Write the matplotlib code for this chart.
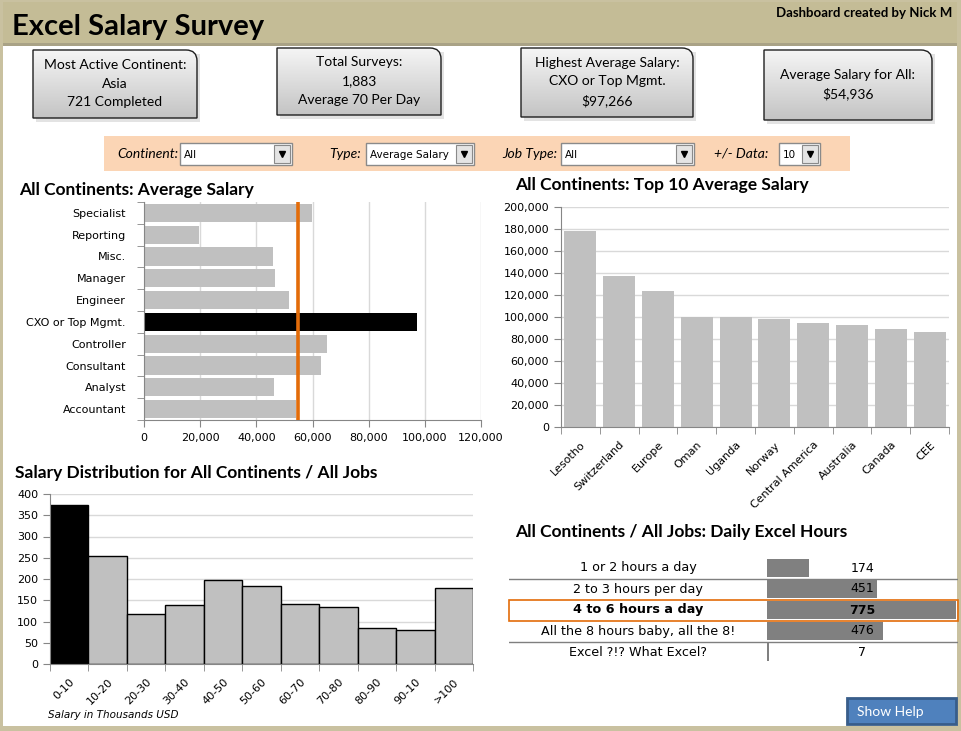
import numpy as np
import matplotlib.pyplot as plt
import matplotlib.transforms as mtransforms
from matplotlib.patches import Rectangle, PathPatch
from matplotlib.path import Path
from matplotlib.colors import LinearSegmentedColormap
from matplotlib.ticker import FuncFormatter, MultipleLocator

W, H = 962, 731

# ---- data ----
job_types = ['Accountant', 'Analyst', 'Consultant', 'Controller', 'CXO or Top Mgmt.',
             'Engineer', 'Manager', 'Misc.', 'Reporting', 'Specialist']
job_salary = [54100, 46200, 63000, 65100, 97266, 51600, 46600, 45900, 19500, 59700]
avg_salary_all = 54936

countries = ['Lesotho', 'Switzerland', 'Europe', 'Oman', 'Uganda', 'Norway',
             'Central America', 'Australia', 'Canada', 'CEE']
country_salary = [177900, 137600, 124000, 100400, 99700, 98500, 94900, 93100, 89400, 86700]

salary_bins = ['0-10', '10-20', '20-30', '30-40', '40-50', '50-60', '60-70',
               '70-80', '80-90', '90-10', '>100']
bin_counts = [375, 253, 117, 138, 197, 183, 141, 134, 85, 80, 180]

hours_labels = ['1 or 2 hours a day', '2 to 3 hours per day', '4 to 6 hours a day',
                'All the 8 hours baby, all the 8!', 'Excel ?!? What Excel?']
hours_counts = [174, 451, 775, 476, 7]

kpi_texts = ['Most Active Continent:\nAsia\n721 Completed',
             'Total Surveys:\n1,883\nAverage 70 Per Day',
             'Highest Average Salary:\nCXO or Top Mgmt.\n$97,266',
             'Average Salary for All:\n$54,936']

filter_labels = ['Continent:', 'Type:', 'Job Type:', '+/- Data:']
filter_values = ['All', 'Average Salary', 'All', '10']

# ---- colours / fonts ----
TAN = '#c9c1a0'
HEADER = '#c4bc96'
BAR = '#c0c0c0'
ORANGE = '#e36c09'
AXGREY = '#868686'
GRID = '#d9d9d9'
TFONT = 'Lato'
TICK = 'DejaVu Sans'

fig = plt.figure(figsize=(W / 100, H / 100), dpi=100)


def px_axes(x0, y0, x1, y1):
    return fig.add_axes([x0 / W, 1 - y1 / H, (x1 - x0) / W, (y1 - y0) / H])


def ftext(x, y, s, **kw):
    fig.text(x / W, 1 - y / H, s, **kw)


comma = FuncFormatter(lambda v, p: f'{int(v):,}')

# ---- background frame ----
bg = px_axes(0, 0, W, H)
bg.set_xlim(0, W)
bg.set_ylim(H, 0)
bg.axis('off')
bg.add_patch(Rectangle((0, 0), W, H, fc=TAN, ec='none', zorder=0))
bg.add_patch(Rectangle((3, 45), 954, 681, fc='white', ec='none', zorder=0.5))
bg.add_patch(Rectangle((3, 2), 954, 42, fc=HEADER, ec='none', zorder=0.6))
bg.add_patch(Rectangle((3, 43), 954, 2.5, fc='#a9a286', ec='none', zorder=0.7))

ftext(12, 27, 'Excel Salary Survey', fontsize=21, fontweight='bold', family=TFONT,
      va='center', ha='left')
ftext(952, 13, 'Dashboard created by Nick M', fontsize=9.5, fontweight='bold',
      family=TFONT, va='center', ha='right')

# ---- KPI boxes ----
grad = LinearSegmentedColormap.from_list('g', ['#f5f5f5', '#c4c4c4'])
kpi_rects = [(33, 50, 197, 118), (277, 48, 441, 115), (521, 48, 693, 117), (764, 50, 932, 120)]
for (x0, y0, x1, y1), txt in zip(kpi_rects, kpi_texts):
    r = 11
    verts = [(x0, y1), (x0, y0), (x1 - r, y0), (x1, y0), (x1, y0 + r), (x1, y1), (x0, y1)]
    codes = [Path.MOVETO, Path.LINETO, Path.LINETO, Path.CURVE3, Path.CURVE3,
             Path.LINETO, Path.CLOSEPOLY]
    bg.add_patch(Rectangle((x0 + 3, y0 + 4), x1 - x0, y1 - y0, fc='#c8c8c8',
                           ec='none', alpha=0.5, zorder=1))
    shape = PathPatch(Path(verts, codes), fc='none', ec='#1f1f1f', lw=1.0, zorder=3)
    bg.add_patch(shape)
    im = bg.imshow(np.linspace(0, 1, 64).reshape(-1, 1), cmap=grad, aspect='auto',
                   extent=(x0, x1, y1, y0), zorder=2)
    im.set_clip_path(shape)
    ftext((x0 + x1) / 2, (y0 + y1) / 2 - 0.5, txt, fontsize=10, family=TFONT,
          ha='center', va='center', linespacing=1.65)

# ---- filter bar ----
bg.add_patch(Rectangle((104, 136), 746, 35, fc='#fbd5b5', ec='none', zorder=1))
combos = [(180, 292), (366, 474), (561, 694), (779, 820)]
label_x = [178, 361, 557, 768]
for (cx0, cx1), lx, lab, val in zip(combos, label_x, filter_labels, filter_values):
    bg.add_patch(Rectangle((cx0, 143), cx1 - cx0, 22, fc='white', ec='#8a8a8a', lw=1, zorder=2))
    bg.add_patch(Rectangle((cx1 - 18, 145), 16, 18, fc='#e4e4e4', ec='#8a8a8a', lw=0.8, zorder=3))
    bg.plot([cx1 - 10], [154], marker='v', color='black', ms=4.5, zorder=4)
    ftext(lx, 154, lab, fontsize=10, style='italic', family=TFONT, ha='right', va='center')
    ftext(cx0 + 4, 155, val, fontsize=7.5, family=TICK, ha='left', va='center')

bg.set_xlim(0, W)
bg.set_ylim(H, 0)

# ---- chart 1: average salary by job type ----
ftext(19, 190, 'All Continents: Average Salary', fontsize=12.5, fontweight='bold',
      family=TFONT, va='center')
ax1 = px_axes(144, 202, 481, 420)
ax1.set_facecolor('none')
hi = int(np.argmax(job_salary))
cols = ['black' if i == hi else BAR for i in range(len(job_salary))]
ax1.barh(range(len(job_types)), job_salary, height=0.84, color=cols, zorder=2)
ax1.axvline(avg_salary_all, color=ORANGE, lw=2.6, zorder=3)
ax1.set_xlim(0, 120000)
ax1.set_ylim(-0.5, len(job_types) - 0.5)
ax1.xaxis.set_major_locator(MultipleLocator(20000))
ax1.xaxis.set_major_formatter(comma)
ax1.set_yticks(range(len(job_types)))
ax1.set_yticklabels(job_types)
ax1.set_yticks(np.arange(-0.5, len(job_types), 1), minor=True)
ax1.tick_params(axis='y', which='major', length=0, pad=13)
ax1.tick_params(axis='y', which='minor', length=5, color=AXGREY)
ax1.tick_params(axis='x', length=5, color=AXGREY, pad=4)
ax1.grid(axis='x', color=GRID, lw=1, zorder=0)
for s in ['top', 'right']:
    ax1.spines[s].set_visible(False)
for s in ['left', 'bottom']:
    ax1.spines[s].set_color(AXGREY)
for t in ax1.get_xticklabels() + ax1.get_yticklabels():
    t.set_fontsize(8)
    t.set_family(TICK)

# ---- chart 2: top 10 average salary ----
ftext(515, 185, 'All Continents: Top 10 Average Salary', fontsize=12.5, fontweight='bold',
      family=TFONT, va='center')
ax2 = px_axes(561, 207, 949, 427)
ax2.set_facecolor('none')
ax2.bar(range(len(countries)), country_salary, width=0.82, color=BAR, zorder=2)
ax2.set_xlim(-0.5, len(countries) - 0.5)
ax2.set_ylim(0, 200000)
ax2.yaxis.set_major_locator(MultipleLocator(20000))
ax2.yaxis.set_major_formatter(comma)
ax2.set_xticks(range(len(countries)))
ax2.set_xticklabels(countries, rotation=45, ha='right', rotation_mode='anchor')
ax2.set_xticks(np.arange(-0.5, len(countries), 1), minor=True)
ax2.tick_params(axis='x', which='major', length=0, pad=9)
ax2.tick_params(axis='x', which='minor', length=5, color=AXGREY)
ax2.tick_params(axis='y', length=5, color=AXGREY)
ax2.grid(axis='y', color=GRID, lw=1, zorder=0)
for s in ['top', 'right']:
    ax2.spines[s].set_visible(False)
for s in ['left', 'bottom']:
    ax2.spines[s].set_color(AXGREY)
for t in ax2.get_xticklabels() + ax2.get_yticklabels():
    t.set_fontsize(8)
    t.set_family(TICK)

# ---- chart 3: salary distribution ----
ftext(15, 473, 'Salary Distribution for All Continents / All Jobs', fontsize=12.5,
      fontweight='bold', family=TFONT, va='center')
ax3 = px_axes(50, 494, 473, 664)
ax3.set_facecolor('none')
hb = int(np.argmax(bin_counts))
cols3 = ['black' if i == hb else BAR for i in range(len(bin_counts))]
ax3.bar(range(len(salary_bins)), bin_counts, width=1.0, color=cols3, edgecolor='black',
        lw=1, zorder=2)
ax3.set_xlim(-0.5, len(salary_bins) - 0.5)
ax3.set_ylim(0, 400)
ax3.yaxis.set_major_locator(MultipleLocator(50))
ax3.set_xticks(range(len(salary_bins)))
ax3.set_xticklabels(salary_bins, rotation=45, ha='right', rotation_mode='anchor')
ax3.set_xticks(np.arange(-0.5, len(salary_bins), 1), minor=True)
ax3.tick_params(axis='x', which='major', length=0, pad=9)
ax3.tick_params(axis='x', which='minor', length=5, color=AXGREY)
ax3.tick_params(axis='y', length=5, color=AXGREY)
ax3.grid(axis='y', color=GRID, lw=1, zorder=0)
for s in ['top', 'right']:
    ax3.spines[s].set_visible(False)
for s in ['left', 'bottom']:
    ax3.spines[s].set_color(AXGREY)
for t in ax3.get_xticklabels() + ax3.get_yticklabels():
    t.set_fontsize(8)
    t.set_family(TICK)
ftext(48, 715, 'Salary in Thousands USD', fontsize=7.5, style='italic', family=TICK,
      va='center')

# ---- chart 4: daily excel hours ----
ftext(515, 532, 'All Continents / All Jobs: Daily Excel Hours', fontsize=12.5,
      fontweight='bold', family=TFONT, va='center')
n = len(hours_labels)
hr = int(np.argmax(hours_counts))
lab_ax = px_axes(509, 557.5, 767, 662.5)
bar_ax = px_axes(767, 557.5, 958, 662.5)
for a in (lab_ax, bar_ax):
    a.set_ylim(n - 0.5, -0.5)
    a.axis('off')
    for yl in (0.5, 3.5):
        a.axhline(yl, color='#7f7f7f', lw=1)
lab_ax.set_xlim(0, 1)
bar_ax.barh(range(n), hours_counts, height=0.81, color='#808080', zorder=2)
bar_ax.set_xlim(0, max(hours_counts) * 1.01)
tr = mtransforms.blended_transform_factory(bar_ax.transAxes, bar_ax.transData)
for i, (lab, v) in enumerate(zip(hours_labels, hours_counts)):
    w = 'bold' if i == hr else 'normal'
    lab_ax.text(0.5, i, lab, ha='center', va='center', fontsize=9.2, family=TICK, fontweight=w)
    bar_ax.text(0.5, i, f'{v}', transform=tr, ha='center', va='center', fontsize=9,
                family=TICK, fontweight=w, zorder=3)
bg.add_patch(Rectangle((509, 600), 449, 20.5, fill=False, ec=ORANGE, lw=1.2, zorder=5))

# ---- show help button ----
bg.add_patch(Rectangle((847, 698), 109, 26, fc='#4f81bd', ec='#385d8a', lw=2, zorder=2))
ftext(857, 712, 'Show Help', fontsize=10, family=TFONT, color='white', va='center')

fig.savefig('out.png', dpi=100)
